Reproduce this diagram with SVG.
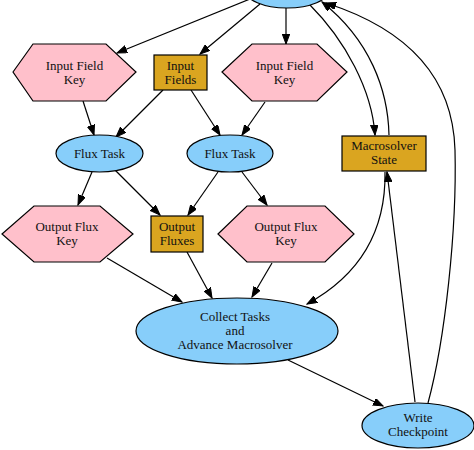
<svg xmlns="http://www.w3.org/2000/svg" width="474" height="450" viewBox="0 0 474 450">
<defs>
<marker id="ah" markerUnits="userSpaceOnUse" markerWidth="11" markerHeight="8" refX="10" refY="3.75" orient="auto">
<path d="M0,0 L10,3.75 L0,7.5 z" fill="#000" stroke="#000" stroke-width="1"/>
</marker>
<style>
.e{fill:#87CEFA;stroke:#000;stroke-width:1.2}
.h{fill:#FFC0CB;stroke:#000;stroke-width:1.2}
.b{fill:#DAA520;stroke:#000;stroke-width:1.2}
.c path{fill:none;stroke:#000;stroke-width:1.2;marker-end:url(#ah)}
text{font-family:"Liberation Serif","Times New Roman",serif;font-size:13px;fill:#111;text-anchor:middle}
</style>
</defs>
<rect width="474" height="450" fill="#fff"/>
<g id="connectors" class="c">
<path d="M250,-1 L117,53"/>
<path d="M260,4 L200,54"/>
<path d="M286,8 L286,44"/>
<path d="M310,5 C345,40 372,90 375,135"/>
<path d="M389,135 C388,90 370,40 322,2"/>
<path d="M428,403 C445,340 457,230 455,150 C453,80 410,30 326,3"/>
<path d="M415,402 L387,172"/>
<path d="M83,101 L94,135"/>
<path d="M163,90 L116,137"/>
<path d="M191,90 L220,135"/>
<path d="M265,102 L242,135"/>
<path d="M92,172 L78,205"/>
<path d="M115,170 L160,215"/>
<path d="M218,172 L188,215"/>
<path d="M242,172 L267,205"/>
<path d="M107,258 L182,302"/>
<path d="M187,252 L212,298"/>
<path d="M272,263 L252,297"/>
<path d="M385,172 C386,230 360,275 307,304"/>
<path d="M288,360 L383,406"/>
</g>
<g id="top"><ellipse class="e" cx="287" cy="-10" rx="42" ry="18"/></g>
<g id="ifk1"><polygon class="h" points="13,72 33,44 106,44 136,72 106,101 33,101"/><text x="74.5" y="70">Input Field</text><text x="74.5" y="84">Key</text></g>
<g id="if"><rect class="b" x="154" y="55" width="53" height="35"/><text x="180.5" y="70">Input</text><text x="180.5" y="84">Fields</text></g>
<g id="ifk2"><polygon class="h" points="222,72 252,44 317,44 347,72 317,101 252,101"/><text x="284.5" y="70">Input Field</text><text x="284.5" y="84">Key</text></g>
<g id="ms"><rect class="b" x="342" y="136" width="84" height="35"/><text x="384" y="150">Macrosolver</text><text x="384" y="164">State</text></g>
<g id="ft1"><ellipse class="e" cx="99.5" cy="153.5" rx="43.5" ry="18.5"/><text x="99.5" y="158">Flux Task</text></g>
<g id="ft2"><ellipse class="e" cx="230" cy="153.5" rx="43" ry="18.5"/><text x="230" y="158">Flux Task</text></g>
<g id="ofk1"><polygon class="h" points="2,234 34,206 100,206 133,234 100,262 34,262"/><text x="67" y="231">Output Flux</text><text x="67" y="245">Key</text></g>
<g id="of"><rect class="b" x="151" y="216" width="52" height="36"/><text x="177" y="231">Output</text><text x="177" y="245">Fluxes</text></g>
<g id="ofk2"><polygon class="h" points="218,234 247,206 325,206 354,234 325,262 247,262"/><text x="286" y="231">Output Flux</text><text x="286" y="245">Key</text></g>
<g id="collect"><ellipse class="e" cx="237" cy="331" rx="101" ry="33"/><text x="235" y="321">Collect Tasks</text><text x="235" y="335">and</text><text x="235" y="349">Advance Macrosolver</text></g>
<g id="wc"><ellipse class="e" cx="418" cy="425.5" rx="56" ry="22.5"/><text x="418" y="422">Write</text><text x="418" y="436">Checkpoint</text></g>
</svg>
